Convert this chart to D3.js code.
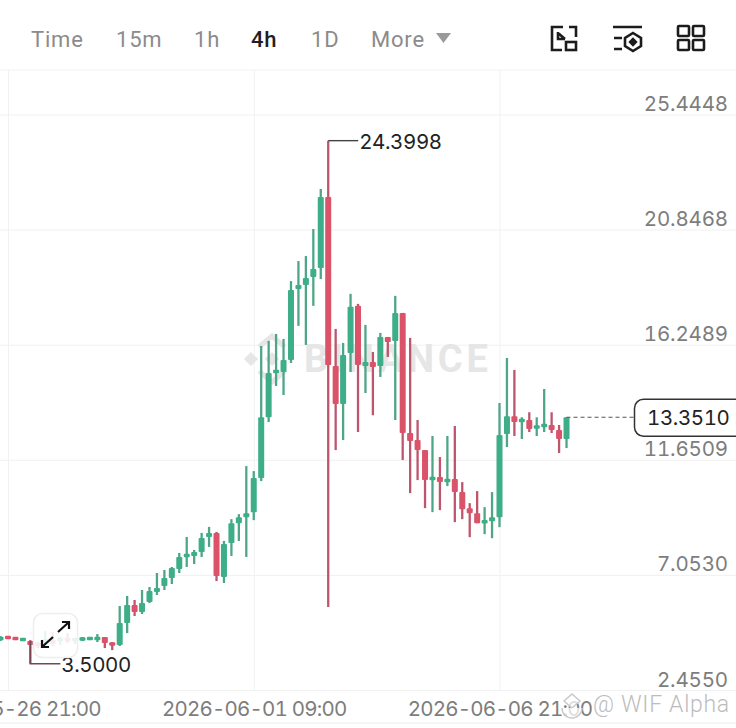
<!DOCTYPE html>
<html>
<head>
<meta charset="utf-8">
<style>
  html, body { margin: 0; padding: 0; background: #fff; overflow: hidden; }
  svg { display: block; font-family: Roboto, sans-serif; }
  .tab { font-size: 22px; letter-spacing: 0.8px; fill: #8b8b8b; }
  .tab.on { fill: #1f1f1f; font-weight: 500; }
  .axis text { font-family: Inter, sans-serif; font-size: 20.5px; font-variant-numeric: tabular-nums; fill: #7d7d7d; }
  .axis.time text { letter-spacing: -0.8px; }
  .axis.price text { letter-spacing: -0.15px; }
  .axis line { stroke: #f1f1f1; }
  .axis path { display: none; }
  .mark { font-family: Inter, sans-serif; font-size: 20.5px; letter-spacing: -0.4px; font-variant-numeric: tabular-nums; fill: #222; }
  .icon { fill: none; stroke: #1c1c1c; stroke-width: 2.6; }
</style>
</head>
<body>
<svg id="chart" width="736" height="728">
  <defs><filter id="soft"><feGaussianBlur stdDeviation="0.45"></feGaussianBlur></filter></defs>
</svg>
<script src="https://cdnjs.cloudflare.com/ajax/libs/d3/7.8.5/d3.min.js"></script>
<script>
// 4h bars, the first one opens 2026-05-26 17:00
var firstBar = "2026-05-26 17:00";
var opens = [4.45, 4.57, 4.53, 4.45, 4.41, 4.33, 4.33, 4.45, 4.41, 4.53, 4.45, 4.45, 4.49, 4.45, 4.57, 4.33,
  4.25, 5.13, 5.85, 5.57, 5.97, 6.37, 6.61, 6.93, 7.29, 7.77, 7.81, 7.97, 8.57, 8.73, 6.97, 8.33, 9.12, 9.36, 9.56,
  10.92, 13.35, 15.12, 15.16, 15.64, 18.47, 18.63, 18.95, 19.31, 22.15, 15.40, 13.88, 15.92, 17.80, 15.40, 15.56,
  15.40, 16.56, 16.40, 17.52, 12.72, 12.44, 12.04, 10.84, 10.96, 10.76, 10.88, 10.36, 9.72, 9.52, 9.16, 9.20, 9.36,
  12.68, 13.39, 13.16, 13.24, 12.92, 12.96, 13.04, 12.84, 12.48];
var highs = [4.61, 4.61, 4.57, 4.53, 4.45, 4.37, 4.81, 4.77, 4.57, 4.73, 4.53, 4.57, 4.57, 4.69, 4.57, 4.37,
  5.81, 6.21, 6.05, 6.45, 6.57, 7.13, 7.25, 7.37, 7.93, 8.57, 8.05, 8.73, 8.97, 8.77, 8.41, 9.28, 9.48, 11.40, 11.20,
  16.20, 16.40, 16.68, 16.48, 18.79, 19.59, 19.79, 20.87, 22.47, 24.3998, 16.88, 16.32, 18.28, 17.88, 17.04, 15.96,
  16.72, 16.56, 18.20, 17.52, 16.52, 13.24, 12.04, 12.60, 11.76, 12.60, 13.00, 10.76, 9.92, 10.40, 9.76, 10.36, 13.92,
  15.72, 15.24, 13.35, 13.55, 13.35, 14.48, 13.55, 13.04, 13.35];
var lows = [4.41, 4.49, 4.45, 4.41, 3.50, 4.13, 4.25, 4.21, 4.25, 4.33, 4.29, 4.41, 4.45, 4.37, 4.13, 4.05,
  4.21, 4.73, 5.41, 5.49, 5.93, 6.25, 6.45, 6.69, 7.13, 7.37, 7.49, 7.77, 8.17, 6.81, 6.73, 7.81, 8.41, 7.77, 9.24,
  10.80, 13.16, 14.60, 14.24, 15.52, 17.00, 16.24, 17.80, 18.87, 5.77, 12.04, 12.44, 15.16, 12.76, 14.32, 13.43,
  14.96, 15.76, 13.24, 11.64, 10.32, 10.84, 9.72, 9.56, 9.64, 10.60, 9.16, 9.28, 8.56, 9.12, 8.68, 8.52, 8.96,
  12.16, 12.60, 12.48, 12.76, 12.60, 12.76, 12.72, 11.92, 12.12];
var closes = [4.57, 4.53, 4.49, 4.49, 4.25, 4.21, 4.49, 4.29, 4.53, 4.41, 4.49, 4.53, 4.53, 4.57, 4.33, 4.25,
  5.13, 5.85, 5.57, 5.93, 6.41, 6.53, 6.93, 7.33, 7.77, 7.89, 7.97, 8.53, 8.73, 7.01, 8.29, 9.12, 9.36, 9.52, 10.92,
  13.35, 15.12, 15.24, 15.64, 18.43, 18.63, 18.91, 19.27, 22.15, 15.44, 13.88, 15.84, 17.76, 15.44, 15.56, 15.36,
  16.56, 16.36, 17.52, 12.72, 12.40, 12.04, 10.84, 10.96, 10.76, 10.88, 10.36, 9.68, 9.52, 9.12, 9.20, 9.36, 12.64,
  13.39, 13.16, 13.28, 12.88, 13.00, 13.08, 12.84, 12.48, 13.351];

var priceTicks = [25.4448, 20.8468, 16.2489, 11.6509, 7.0530, 2.4550];
var timeTicks = ["2026-05-26 21:00", "2026-06-01 09:00", "2026-06-06 21:00"];
var tabs = ["Time", "15m", "1h", "4h", "1D", "More"];
var tabX = [31, 116, 194, 251, 311, 371];
var highMark = "24.3998", lowMark = "3.5000", lastMark = "13.3510";

var green = "#3cae87", red = "#da5269", greenWick = "#4fa686", redWick = "#bd566d";

var parse = d3.utcParse("%Y-%m-%d %H:%M");
var dates = opens.map(function (d, i) {
  return d3.utcHour.offset(parse(firstBar), i * 4);
});

var svg = d3.select("#chart");

var x = d3.scaleUtc()
  .domain([parse(timeTicks[0]), parse(timeTicks[2])])
  .range([8, 499.5]);
var y = d3.scaleLinear()
  .domain([2.455, 25.4448])
  .range([690, 114.5]);

// frame lines
svg.append("line").attr("x1", 0).attr("x2", 736).attr("y1", 70).attr("y2", 70).attr("stroke", "#f1f1f1");
svg.append("line").attr("x1", 0).attr("x2", 736).attr("y1", 723).attr("y2", 723).attr("stroke", "#ececec");

// grid and labels
var yAxis = d3.axisRight(y)
  .tickValues(priceTicks)
  .tickSize(-736)
  .tickFormat(d3.format(".4f"));
svg.append("g").attr("class", "axis price").attr("transform", "translate(736,0)").call(yAxis)
  .selectAll("text")
  .attr("x", -8)
  .attr("dy", "-4")
  .attr("text-anchor", "end");

var xAxis = d3.axisBottom(x)
  .tickValues(timeTicks.map(parse))
  .tickSize(-620)
  .tickFormat(d3.utcFormat("%Y-%m-%d %H:%M"));
svg.append("g").attr("class", "axis time").attr("transform", "translate(0,690)").call(xAxis)
  .selectAll("text")
  .attr("y", 26)
  .attr("dy", 0);

// watermark sits under the candles
var wm = svg.append("g").attr("fill", "#e6e6e6");
wm.append("text").attr("x", 304).attr("y", 372)
  .attr("font-size", 38).attr("font-weight", 700).attr("letter-spacing", 3.8)
  .text("BINANCE");
wm.append("rect").attr("x", -5).attr("y", -5).attr("width", 10).attr("height", 10)
  .attr("transform", "translate(251,359) rotate(45)");
wm.append("rect").attr("x", -5).attr("y", -5).attr("width", 10).attr("height", 10)
  .attr("transform", "translate(272,359) rotate(45)");
wm.append("path").attr("fill", "none").attr("stroke", "#e6e6e6").attr("stroke-width", 5)
  .attr("d", "M259,347L272,336L285,347M259,371L272,382L285,371");

// candles
var candle = svg.append("g").attr("filter", "url(#soft)").selectAll("g")
  .data(opens)
  .enter().append("g");

candle.append("line")
  .attr("x1", function (d, i) { return x(dates[i]); })
  .attr("x2", function (d, i) { return x(dates[i]); })
  .attr("y1", function (d, i) { return y(highs[i]); })
  .attr("y2", function (d, i) { return y(lows[i]); })
  .attr("stroke-width", 2.3)
  .attr("stroke", function (d, i) { return closes[i] >= opens[i] ? greenWick : redWick; });

candle.append("rect")
  .attr("x", function (d, i) { return x(dates[i]) - 3; })
  .attr("width", 6)
  .attr("y", function (d, i) {
    var h = Math.abs(y(opens[i]) - y(closes[i]));
    return y(Math.max(opens[i], closes[i])) - (h < 3.5 ? (3.5 - h) / 2 : 0);
  })
  .attr("height", function (d, i) { return Math.max(Math.abs(y(opens[i]) - y(closes[i])), 3.5); })
  .attr("rx", 1)
  .attr("fill", function (d, i) { return closes[i] >= opens[i] ? green : red; });

// high / low callouts
var hiBar = highs.indexOf(d3.max(highs)), loBar = lows.indexOf(d3.min(lows));
var hx = x(dates[hiBar]), hy = y(highs[hiBar]);
svg.append("path").attr("fill", "none").attr("stroke", "#444").attr("stroke-width", 1.4)
  .attr("d", "M" + hx + "," + hy + "H" + (hx + 30));
svg.append("text").attr("class", "mark").attr("x", hx + 31).attr("y", hy + 8).text(highMark);

var lx = x(dates[loBar]), ly = y(lows[loBar]);
svg.append("path").attr("fill", "none").attr("stroke", "#7a4450").attr("stroke-width", 1.5)
  .attr("d", "M" + lx + "," + y(4.41) + "V" + ly + "H" + (lx + 30));
svg.append("text").attr("class", "mark").attr("x", lx + 31).attr("y", ly + 8).text(lowMark);

// last price
var lastY = y(closes[closes.length - 1]);
svg.append("line").attr("x1", x(dates[dates.length - 1])).attr("x2", 634)
  .attr("y1", lastY).attr("y2", lastY)
  .attr("stroke", "#555").attr("stroke-width", 1.2).attr("stroke-dasharray", "4,3");
svg.append("rect").attr("x", 634.5).attr("y", lastY - 18).attr("width", 110).attr("height", 37)
  .attr("rx", 9).attr("fill", "#fff").attr("stroke", "#333").attr("stroke-width", 1.5);
svg.append("text").attr("class", "mark").attr("x", 647).attr("y", lastY + 8).text(lastMark);

// expand button
svg.append("rect").attr("x", 33.5).attr("y", 613.5).attr("width", 44).attr("height", 44).attr("rx", 9)
  .attr("fill", "#fff").attr("fill-opacity", 0.88).attr("stroke", "#eeeeee").attr("stroke-width", 1.5);
svg.append("path").attr("fill", "none").attr("stroke", "#111").attr("stroke-width", 2.2)
  .attr("d", "M58,632L69,622M62,622H69V629M53,637L42,647M42,640V647H49");

// toolbar
svg.selectAll(".tab").data(tabs).enter().append("text")
  .attr("class", function (d) { return d === "4h" ? "tab on" : "tab"; })
  .attr("x", function (d, i) { return tabX[i]; })
  .attr("y", 47)
  .text(function (d) { return d; });
svg.append("path").attr("fill", "#9a9a9a").attr("d", "M436,33H451L443.5,43Z");

var icons = svg.append("g").attr("class", "icon");
icons.append("path").attr("d", "M563,27H552V50H562M569,27H576V37");
icons.append("path").attr("d", "M558,32V39H565M558,33L565,39");
icons.append("rect").attr("x", 566).attr("y", 42).attr("width", 10).attr("height", 8).attr("fill", "#fff");
icons.append("path").attr("d", "M613,27H642M614,38H622M614,49H622");
icons.append("path").attr("d", "M633,33L641,38V46L633,51L625,46V38Z");
icons.append("rect").attr("x", 631).attr("y", 40).attr("width", 4).attr("height", 4).attr("fill", "#1c1c1c").attr("transform", "rotate(45 633 42)");
[[678, 26], [693, 26], [678, 40], [693, 40]].forEach(function (p) {
  icons.append("rect").attr("x", p[0]).attr("y", p[1]).attr("width", 11).attr("height", 10).attr("rx", 1);
});

// repost stamp at the bottom right
var stamp = svg.append("g");
stamp.append("path").attr("fill", "#fff").attr("fill-opacity", 0.75).attr("stroke", "#c9c9c9").attr("stroke-width", 1.5)
  .attr("d", "M572,694L580,701L572,708L564,701Z");
stamp.append("path").attr("fill", "#fff").attr("fill-opacity", 0.75).attr("stroke", "#c9c9c9").attr("stroke-width", 1.5)
  .attr("d", "M562,708a10,10 0 0 0 20,0");
stamp.append("text").attr("x", 593).attr("y", 712)
  .attr("font-size", 23).attr("font-weight", 300).attr("letter-spacing", 0.7).attr("fill", "#bcbcbc")
  .text("@ WIF Alpha");
</script>
</body>
</html>
